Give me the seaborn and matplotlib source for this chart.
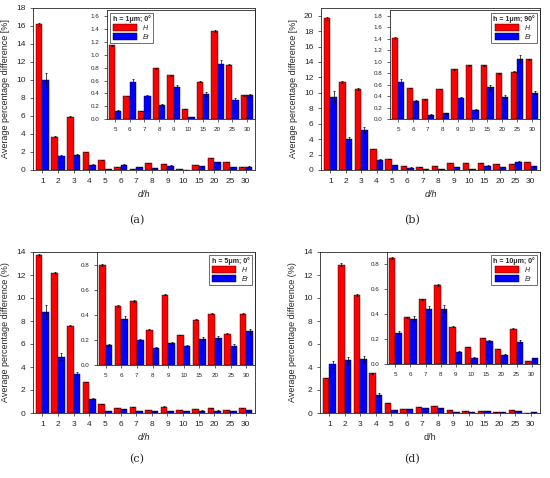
import matplotlib
matplotlib.use("Agg")
import matplotlib.pyplot as plt
import seaborn as sns
import pandas as pd
import numpy as np

sns.set_style("ticks")
plt.rcParams['font.family'] = ['Liberation Sans', 'DejaVu Sans']

cats = ["1","2","3","4","5","6","7","8","9","10","15","20","25","30"]
inset_cats = cats[4:]

a_H  = [16.2,3.7,5.9,2.0,1.15,0.36,0.13,0.79,0.68,0.16,0.58,1.37,0.85,0.37]
a_Er = [10.0,1.6,1.65,0.6,0.13,0.58,0.36,0.22,0.50,0.03,0.39,0.86,0.30,0.37]
a_Ee = [0.8,0.12,0.12,0.05,0.01,0.04,0.02,0.01,0.03,0.005,0.03,0.06,0.02,0.02]
b_H  = [19.7,11.4,10.5,2.75,1.41,0.54,0.34,0.52,0.87,0.94,0.94,0.80,0.82,1.04]
b_Er = [9.5,4.0,5.2,1.3,0.65,0.31,0.07,0.10,0.36,0.16,0.55,0.39,1.05,0.46]
b_Ee = [0.7,0.3,0.35,0.08,0.04,0.02,0.01,0.01,0.02,0.01,0.04,0.02,0.06,0.03]
c_H  = [13.7,12.15,7.6,2.7,0.80,0.47,0.51,0.28,0.56,0.24,0.36,0.41,0.25,0.41]
c_Er = [8.8,4.9,3.35,1.25,0.16,0.37,0.20,0.135,0.175,0.15,0.21,0.215,0.155,0.27]
c_Ee = [0.6,0.3,0.2,0.06,0.01,0.02,0.01,0.008,0.01,0.008,0.01,0.012,0.01,0.02]
d_H  = [3.05,12.9,10.25,3.45,0.85,0.375,0.52,0.635,0.30,0.135,0.21,0.12,0.285,0.025]
d_Er = [4.25,4.6,4.7,1.6,0.25,0.365,0.44,0.445,0.10,0.05,0.185,0.075,0.18,0.045]
d_Ee = [0.3,0.3,0.3,0.1,0.015,0.02,0.03,0.03,0.006,0.003,0.01,0.005,0.01,0.003]

panels = [
    dict(H=a_H, Er=a_Er, Ee=a_Ee, title="h = 1μm; 0°", ylab="Average percentage difference [%]",
         ylim=18, yt=2, ilim=1.7, it=0.2, xl="d/h", xs="italic", lab="(a)", loc="upper left",
         main=[33,8,255,170], ins=[107,10,255,119], labpos=(137,220)),
    dict(H=b_H, Er=b_Er, Ee=b_Ee, title="h = 1μm; 90°", ylab="Average percentage difference [%]",
         ylim=21, yt=2, ilim=1.9, it=0.2, xl="d/h", xs="italic", lab="(b)", loc="upper right",
         main=[321,8,540,170], ins=[390,10,540,119], labpos=(412,220)),
    dict(H=c_H, Er=c_Er, Ee=c_Ee, title="h = 5μm; 0°", ylab="Average percentage difference (%)",
         ylim=14, yt=2, ilim=0.9, it=0.2, xl="d/h", xs="italic", lab="(c)", loc="upper right",
         main=[33,252,255,413], ins=[97,252,255,365], labpos=(137,459)),
    dict(H=d_H, Er=d_Er, Ee=d_Ee, title="h = 10μm; 0°", ylab="Average percentage difference (%)",
         ylim=14, yt=2, ilim=0.9, it=0.2, xl="d/h", xs="normal", lab="(d)", loc="upper right",
         main=[320,252,540,413], ins=[387,252,540,364], labpos=(412,459)),
]

W, Hh = 550, 478
fig = plt.figure(figsize=(5.5, 4.78), dpi=100)
pal = {"H": "#ff0000", "Er": "#0000ff"}

def rect(b):
    l, t, r, bo = b
    return [l / W, 1 - bo / Hh, (r - l) / W, (bo - t) / Hh]

def draw(ax, H, Er, Ee, cl, fs):
    df = pd.DataFrame({"d/h": cl * 2, "val": list(H) + list(Er),
                       "s": ["H"] * len(cl) + ["Er"] * len(cl)})
    sns.barplot(data=df, x="d/h", y="val", hue="s", palette=pal, ax=ax, saturation=1,
                edgecolor="black", linewidth=0.3, width=0.85, legend=True)
    errs = [[v * 0.01 for v in H], list(Ee)]
    for cont, e in zip(ax.containers, errs):
        xs = [p.get_x() + p.get_width() / 2 for p in cont]
        ys = [p.get_height() for p in cont]
        ax.errorbar(xs, ys, yerr=e, fmt="none", ecolor="black", elinewidth=0.5, capsize=1, capthick=0.5)
    ax.tick_params(labelsize=fs, width=0.5, length=2)
    for s in ax.spines.values():
        s.set_linewidth(0.6)
        s.set_visible(True)

for p in panels:
    ax = fig.add_axes(rect(p["main"]))
    draw(ax, p["H"], p["Er"], p["Ee"], cats, 6)
    ax.legend_.remove()
    ax.set_ylim(0, p["ylim"])
    ax.set_yticks(np.arange(0, p["ylim"] + 0.01, p["yt"]))
    ax.set_xlim(-0.6, 13.6)
    ax.set_ylabel(p["ylab"], fontsize=6.5)
    ax.set_xlabel(p["xl"], fontsize=6.5, style=p["xs"])
    fig.text(p["labpos"][0] / W, 1 - p["labpos"][1] / Hh, p["lab"], fontsize=8,
             family="DejaVu Serif", ha="center", va="center")

    ia = fig.add_axes(rect(p["ins"]))
    draw(ia, p["H"][4:], p["Er"][4:], p["Ee"][4:], inset_cats, 4.5)
    ia.set_ylim(0, p["ilim"])
    ia.set_yticks(np.arange(0, p["ilim"] + 0.001, p["it"]))
    ia.set_xlim(-0.55, 9.55)
    ia.set_xlabel("")
    ia.set_ylabel("")
    h_, l_ = ia.get_legend_handles_labels()
    leg = ia.legend(h_, l_, title=p["title"], loc=p["loc"], fontsize=5,
                    title_fontsize=5, frameon=True, fancybox=False, edgecolor="black",
                    borderpad=0.3, handlelength=3.5, handleheight=1.2, labelspacing=0.1)
    leg.get_title().set_fontweight("bold")
    for t in leg.get_texts():
        t.set_style("italic")
    leg.get_frame().set_linewidth(0.5)

fig.savefig("out.png", dpi=100)
